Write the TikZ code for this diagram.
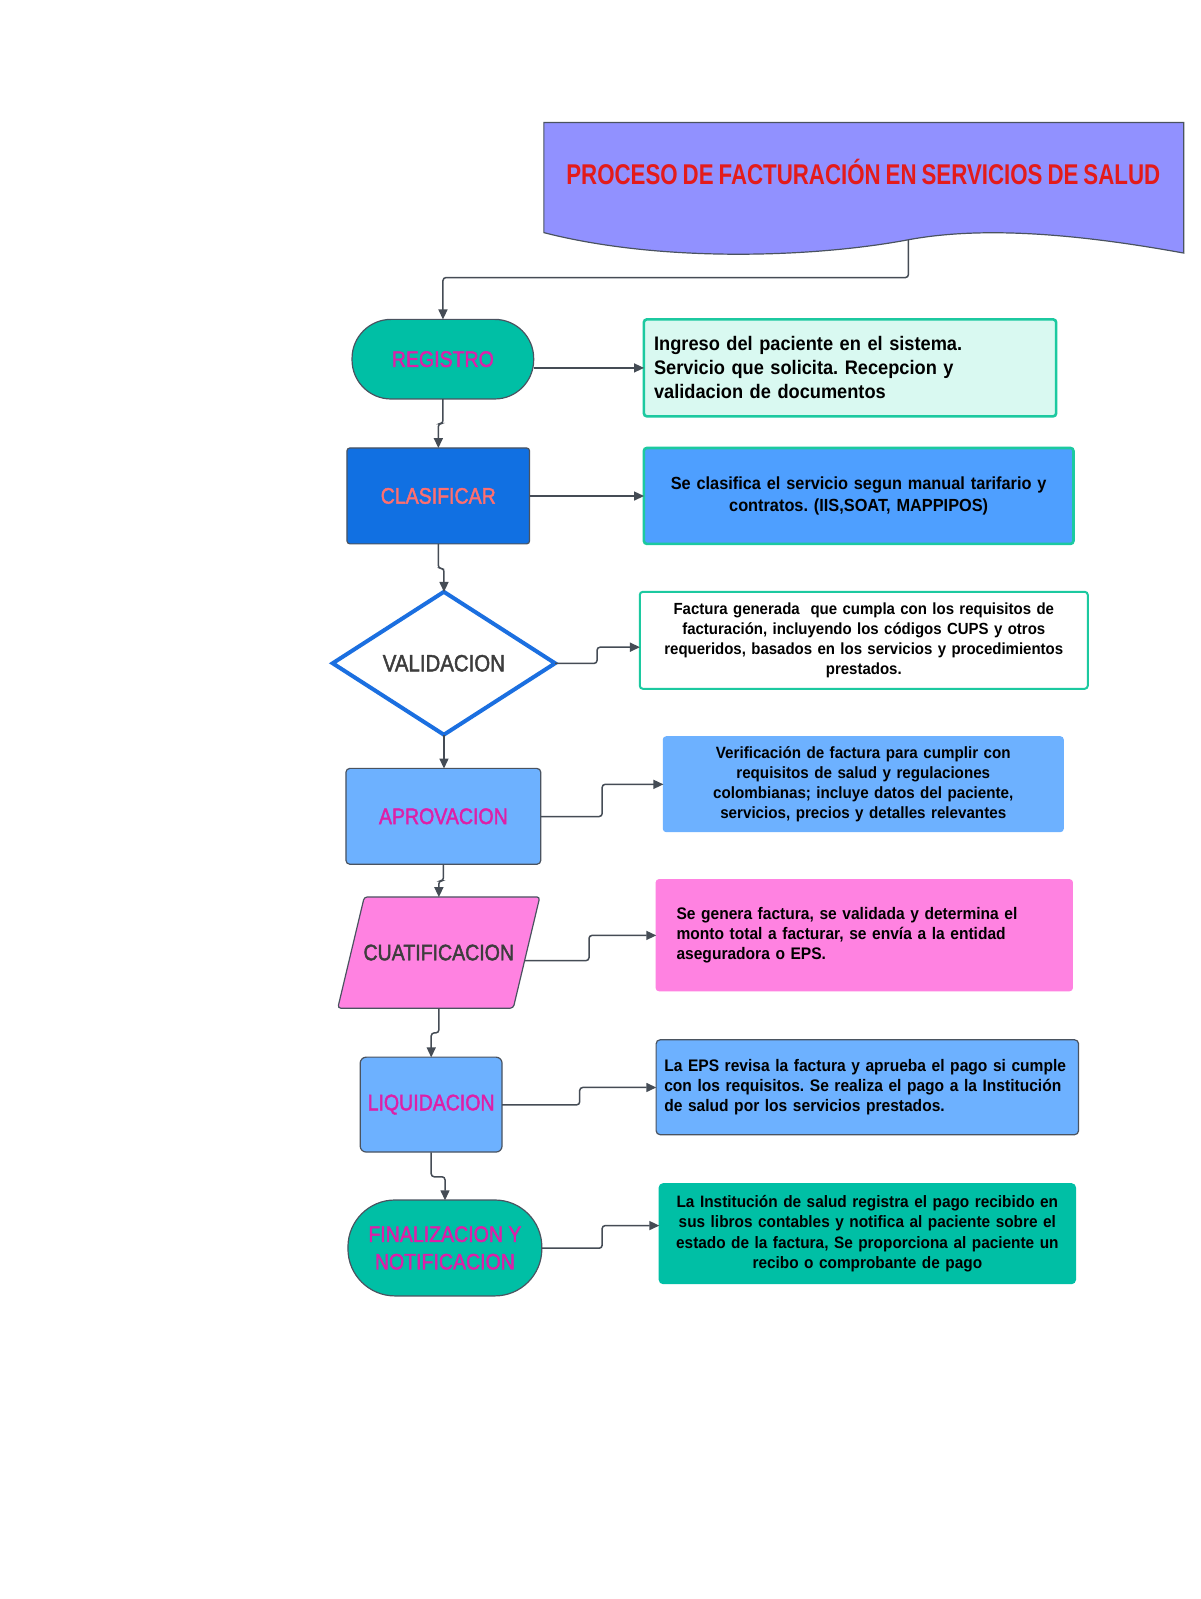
\documentclass[tikz,border=0pt]{standalone}
\usepackage{fontspec}
\setmainfont{Liberation Sans}
\newfontfamily\lblfont[FakeStretch=0.87,FakeBold=1.8]{Liberation Sans}
\newfontfamily\boxfont[FakeStretch=0.93,WordSpace=0.8]{Liberation Sans}
\newfontfamily\titlefont[FakeStretch=0.78,WordSpace=0.8]{Liberation Sans}
\usetikzlibrary{shapes.geometric,arrows.meta,calc}
\frenchspacing
\definecolor{bannerc}{HTML}{9191FF}
\definecolor{tred}{HTML}{E31B1B}
\definecolor{tealf}{HTML}{00BFA5}
\definecolor{mag}{HTML}{DE1FA8}
\definecolor{mint}{HTML}{D9F9F1}
\definecolor{tealb}{HTML}{1CC9A0}
\definecolor{clab}{HTML}{1170E2}
\definecolor{salmon}{HTML}{FF6F6F}
\definecolor{btwo}{HTML}{4E9FFF}
\definecolor{dblue}{HTML}{1B6FE0}
\definecolor{lblue}{HTML}{6DB1FF}
\definecolor{pinkf}{HTML}{FF82E1}
\definecolor{bordgray}{HTML}{4A5360}
\definecolor{linegray}{HTML}{454C55}
\definecolor{txtgray}{HTML}{3D3D3D}
\begin{document}
\begin{tikzpicture}[x=0.5pt,y=-0.5pt,
  conn/.style={draw=linegray, line width=0.75pt, rounded corners=1.5pt, -{Triangle[width=4.5pt,length=5pt]}},
  mainnode/.style={inner sep=0pt, outer sep=0pt, align=center, draw=bordgray, line width=0.6pt},
  lbl/.style={font=\lblfont\fontsize{11}{13.5}\selectfont, text=mag},
  infobox/.style={inner ysep=0pt, outer sep=0pt, text=black}
]
\fill[white] (0,0) rectangle (1200,1599);
\useasboundingbox (0,0) rectangle (1200,1599);
\begin{scope}[scale=1.0204, transform shape]
% banner
\path[draw=bordgray, line width=0.6pt, fill=bannerc]
  (533,228) -- (533,120) -- (1160,120) -- (1160,248)
  .. controls (1050,228) and (960,222) .. (890,235)
  .. controls (800,252) and (650,258) .. (533,228) -- cycle;
\node[inner sep=0pt] (title) at (846,169)
  {\titlefont\bfseries\fontsize{14}{16}\selectfont\color{tred}PROCESO DE FACTURACIÓN EN SERVICIOS DE SALUD};
\coordinate (bannerbot) at (890,235);

% main column
\node[mainnode, lbl, fill=tealf, minimum width=89pt, minimum height=39pt, rounded corners=19.5pt] (reg) at (434,352) {REGISTRO};
\node[mainnode, lbl, text=salmon, fill=clab, minimum width=89.5pt, minimum height=47pt, rounded corners=1.5pt] (cla) at (429.5,486) {CLASIFICAR};
\node[diamond, inner sep=0pt, outer sep=0pt, draw=dblue, line width=2pt, fill=white, minimum width=109pt, minimum height=70pt, font=\lblfont\fontsize{11.5}{13.5}\selectfont, text=txtgray] (val) at (435,650) {VALIDACION};
\node[mainnode, lbl, fill=lblue, minimum width=95.5pt, minimum height=47pt, rounded corners=2pt] (apr) at (434.5,800) {APROVACION};
\path[draw=bordgray, line width=0.6pt, fill=pinkf, rounded corners=1.5pt]
  (357,879) -- (529,879) -- (503,988) -- (331,988) -- cycle;
\node[inner sep=0pt, outer sep=0pt, minimum width=86pt, minimum height=54.5pt, font=\lblfont\fontsize{11}{13.5}\selectfont, text=txtgray] (cua) at (430,933.5) {CUATIFICACION};
\node[mainnode, lbl, fill=lblue, minimum width=69.5pt, minimum height=46.5pt, rounded corners=3pt] (liq) at (422.5,1082.5) {LIQUIDACION};
\node[mainnode, lbl, fill=tealf, minimum width=95pt, minimum height=47pt, rounded corners=23.5pt] (fin) at (436,1223) {FINALIZACION Y\\NOTIFICACION};

% info boxes
\node[infobox, font=\boxfont\bfseries\fontsize{9.6}{11.75}\selectfont, draw=tealb, line width=1.3pt, fill=mint, rounded corners=1.5pt, minimum height=47.5pt, text width=192pt, inner xsep=5pt, align=left] (b1) at (833,360.5)
  {Ingreso del paciente en el sistema.\\ Servicio que solicita. Recepcion y\\ validacion de documentos};
\node[infobox, font=\boxfont\bfseries\fontsize{8.6}{10.5}\selectfont, draw=tealb, line width=1.3pt, fill=btwo, rounded corners=1.5pt, minimum height=47pt, text width=200.5pt, inner xsep=5pt, align=center] (b2) at (841.5,486)
  {Se clasifica el servicio segun manual tarifario y\\ contratos. (IIS,SOAT, MAPPIPOS)\\[2pt]};
\node[infobox, font=\boxfont\bfseries\fontsize{7.9}{9.85}\selectfont, draw=tealb, line width=1pt, fill=white, rounded corners=1.5pt, minimum height=47.5pt, text width=209.5pt, inner xsep=5pt, align=center] (b3) at (846.5,627.5)
  {Factura generada\ \ que cumpla con los requisitos de\\ facturación, incluyendo los códigos CUPS y otros\\ requeridos, basados en los servicios y procedimientos\\ prestados.};
\node[infobox, font=\boxfont\bfseries\fontsize{8}{9.75}\selectfont, fill=lblue, draw=lblue, line width=0.5pt, rounded corners=1.5pt, minimum height=46.5pt, text width=186pt, inner xsep=5pt, align=center] (b4) at (846,768.5)
  {Verificación de factura para cumplir con\\ requisitos de salud y regulaciones\\ colombianas; incluye datos del paciente,\\ servicios, precios y detalles relevantes};
\node[infobox, font=\boxfont\bfseries\fontsize{8.2}{10}\selectfont, fill=pinkf, draw=pinkf, line width=0.5pt, rounded corners=1.5pt, minimum height=54.5pt, text width=184pt, inner xsep=10pt, align=left] (b5) at (847,916.5)
  {Se genera factura, se validada y determina el\\ monto total a facturar, se envía a la entidad\\ aseguradora o EPS.};
\node[infobox, font=\boxfont\bfseries\fontsize{8.2}{10}\selectfont, fill=lblue, draw=bordgray, line width=0.6pt, rounded corners=2pt, minimum height=46.5pt, text width=199pt, inner xsep=4pt, align=left] (b6) at (850,1065.5)
  {La EPS revisa la factura y aprueba el pago si cumple\\ con los requisitos. Se realiza el pago a la Institución\\ de salud por los servicios prestados.};
\node[infobox, font=\boxfont\bfseries\fontsize{8.1}{9.85}\selectfont, fill=tealf, draw=tealf, line width=0.5pt, rounded corners=2pt, minimum height=49pt, text width=196pt, inner xsep=4pt, align=center] (b7) at (850,1209)
  {La Institución de salud registra el pago recibido en\\ sus libros contables y notifica al paciente sobre el\\ estado de la factura, Se proporciona al paciente un\\ recibo o comprobante de pago};

\coordinate (cuar) at ($(cua.east)+(-2,7.5)$);

% connectors
\draw[conn] (bannerbot) -- ++(0,37) -| (reg.north);
\draw[conn] (reg.east |- b1.west) -- (b1.west);
\draw[conn] (cla.east) -- (b2.west);
\draw[conn] (val.east) -- ++(41,0) |- ([yshift=-3.3pt]b3.west);
\draw[conn] (apr.east) -- ++(60,0) |- (b4.west);
\draw[conn] (cuar) -- ++(63,0) |- (b5.west);
\draw[conn] (liq.east) -- ++(76,0) |- (b6.west);
\draw[conn] (fin.east) -- ++(59,0) |- ([yshift=4.1pt]b7.west);

\draw[conn] (reg.south) -- ++(0,24) -| (cla.north);
\draw[conn] (cla.south) -- ++(0,24) -| (val.north);
\draw[conn] (val.south) -- (val.south |- apr.north);
\draw[conn] (apr.south) -- ++(0,16) -| (cua.north);
\draw[conn] (cua.south) -- ++(0,24) -| (liq.north);
\draw[conn] (liq.south) -- ++(0,24) -| (fin.north);
\end{scope}
\end{tikzpicture}
\end{document}
